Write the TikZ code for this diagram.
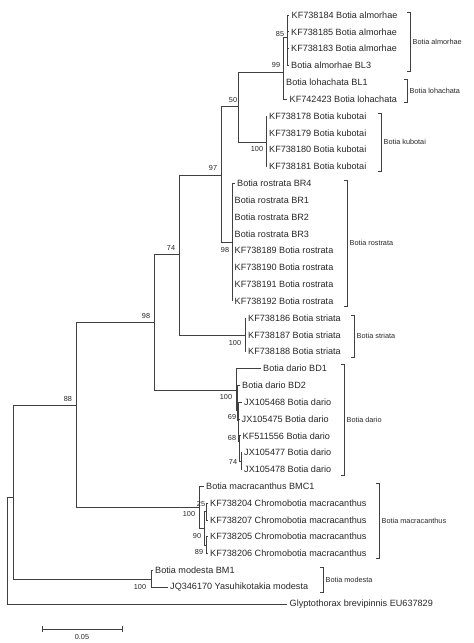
\documentclass[tikz,border=0pt]{standalone}
\usepackage{fontspec}
\setmainfont{Liberation Sans}

\begin{document}
\begin{tikzpicture}[x=1pt, y=-1pt,
  branch/.style={draw=black!75, line width=0.7pt},
  leaf/.style={anchor=west, inner xsep=2.5pt, inner ysep=0pt, font=\fontsize{9.1}{10}\selectfont, text=black!85},
  boot/.style={inner sep=0pt, font=\fontsize{7.3}{8}\selectfont, text=black!85},
  clade/.style={anchor=west, inner sep=0pt, font=\fontsize{7.3}{8}\selectfont, text=black!85}]
\useasboundingbox (0,0) rectangle (474,643);

% internal nodes
\coordinate (root) at (7,550);
\coordinate (nA) at (13,497);
\coordinate (n88) at (76,405);
\coordinate (n98) at (154,322);
\coordinate (n74) at (179,254);
\coordinate (n97) at (221,175);
\coordinate (n50) at (238,106);
\coordinate (n99) at (283,72);
\coordinate (n85) at (287,37);
\coordinate (nKub) at (266,142);
\coordinate (nRos) at (232,242);
\coordinate (nStr) at (245,335);
\coordinate (nDar) at (236,390);
\coordinate (nD2) at (237,410);
\coordinate (n69) at (238.5,420);
\coordinate (n68) at (239.5,441);
\coordinate (n74d) at (241,461);
\coordinate (nMac) at (199,507);
\coordinate (nM2) at (204.5,528);
\coordinate (n25) at (206,511.5);
\coordinate (n90) at (206,545);
\coordinate (nMod) at (151,579);

% taxa
\foreach \i/\lx/\lt in {
  1/289/KF738184 Botia almorhae, 2/288.5/KF738185 Botia almorhae,
  3/288.5/KF738183 Botia almorhae, 4/288.5/Botia almorhae BL3,
  5/283.5/Botia lohachata BL1, 6/287/KF742423 Botia lohachata,
  7/266.5/KF738178 Botia kubotai, 8/266.5/KF738179 Botia kubotai,
  9/266.5/KF738180 Botia kubotai, 10/266.5/KF738181 Botia kubotai,
  11/234.5/Botia rostrata BR4, 12/232/Botia rostrata BR1,
  13/232/Botia rostrata BR2, 14/232/Botia rostrata BR3,
  15/232/KF738189 Botia rostrata, 16/232/KF738190 Botia rostrata,
  17/232/KF738191 Botia rostrata, 18/232/KF738192 Botia rostrata,
  19/245.5/KF738186 Botia striata, 20/245.5/KF738187 Botia striata,
  21/245.5/KF738188 Botia striata,
  22/260.5/Botia dario BD1, 23/239.5/Botia dario BD2,
  24/241.5/JX105468 Botia dario, 25/239/JX105475 Botia dario,
  26/240/KF511556 Botia dario, 27/241.5/JX105477 Botia dario,
  28/241.5/JX105478 Botia dario,
  29/203.5/Botia macracanthus BMC1, 30/207.5/KF738204 Chromobotia macracanthus,
  31/207.5/KF738207 Chromobotia macracanthus, 32/207.5/KF738205 Chromobotia macracanthus,
  33/207.5/KF738206 Chromobotia macracanthus,
  34/152.5/Botia modesta BM1, 35/167.5/JQ346170 Yasuhikotakia modesta,
  36/287/Glyptothorax brevipinnis EU637829}
  \node[leaf] (l\i) at (\lx,{15+16.83*(\i-1)}) {\lt};

% branches
\foreach \p/\c in {root/nA, root/l36, nA/n88, nA/nMod, n88/n98, n88/nMac,
  n98/n74, n98/nDar, n74/n97, n74/nStr, n97/n50, n97/nRos, n50/n99, n50/nKub,
  n99/n85, n99/l5, n99/l6, n85/l1, n85/l2, n85/l3, n85/l4,
  nKub/l7, nKub/l8, nKub/l9, nKub/l10,
  nRos/l11, nRos/l12, nRos/l13, nRos/l14, nRos/l15, nRos/l16, nRos/l17, nRos/l18,
  nStr/l19, nStr/l20, nStr/l21,
  nDar/l22, nDar/nD2, nD2/l23, nD2/n69, n69/l24, n69/l25, n69/n68,
  n68/l26, n68/n74d, n74d/l27, n74d/l28,
  nMac/l29, nMac/nM2, nM2/n25, nM2/n90, n25/l30, n25/l31, n90/l32, n90/l33,
  nMod/l34, nMod/l35}
  \draw[branch] (\p) |- (\c);

% bootstrap values
\foreach \i/\bx/\by/\bv in {1/280/34/85, 2/276/65/99, 3/233/100/50, 4/213/168/97,
  5/171/248/74, 6/146/316/98, 7/68/399/88, 8/257/149/100, 9/225/250/98,
  10/235/343/100, 11/226/397/100, 12/232/417/69, 13/232/438/68, 14/233/462/74,
  15/201/504/25, 16/189/514/100, 17/197/536/90, 18/199/552/89, 19/140/587/100}
  \node[boot] (b\i) at (\bx,\by) {\bv};

% clade brackets
\foreach \bx/\bt/\bb/\bn [count=\k] in {410/12/71/Botia almorhae,
  407/79/102/Botia lohachata, 381/113/171/Botia kubotai,
  347/180/306/Botia rostrata, 354/315/357/Botia striata,
  344/364/475/Botia dario, 379/483/558/Botia macracanthus,
  323/567/592/Botia modesta} {
  \draw[branch] (\bx-3,\bt) -- (\bx,\bt) -- (\bx,\bb) -- (\bx-3,\bb);
  \node[clade] (c\k) at (\bx+2.5,{(\bt+\bb)/2}) {\bn};
}

% scale bar
\draw[branch] (42,629) -- (122,629) (42,626) -- (42,632) (122,626) -- (122,632);
\node[boot] (sbl) at (82,637) {0.05};
\end{tikzpicture}
\end{document}
